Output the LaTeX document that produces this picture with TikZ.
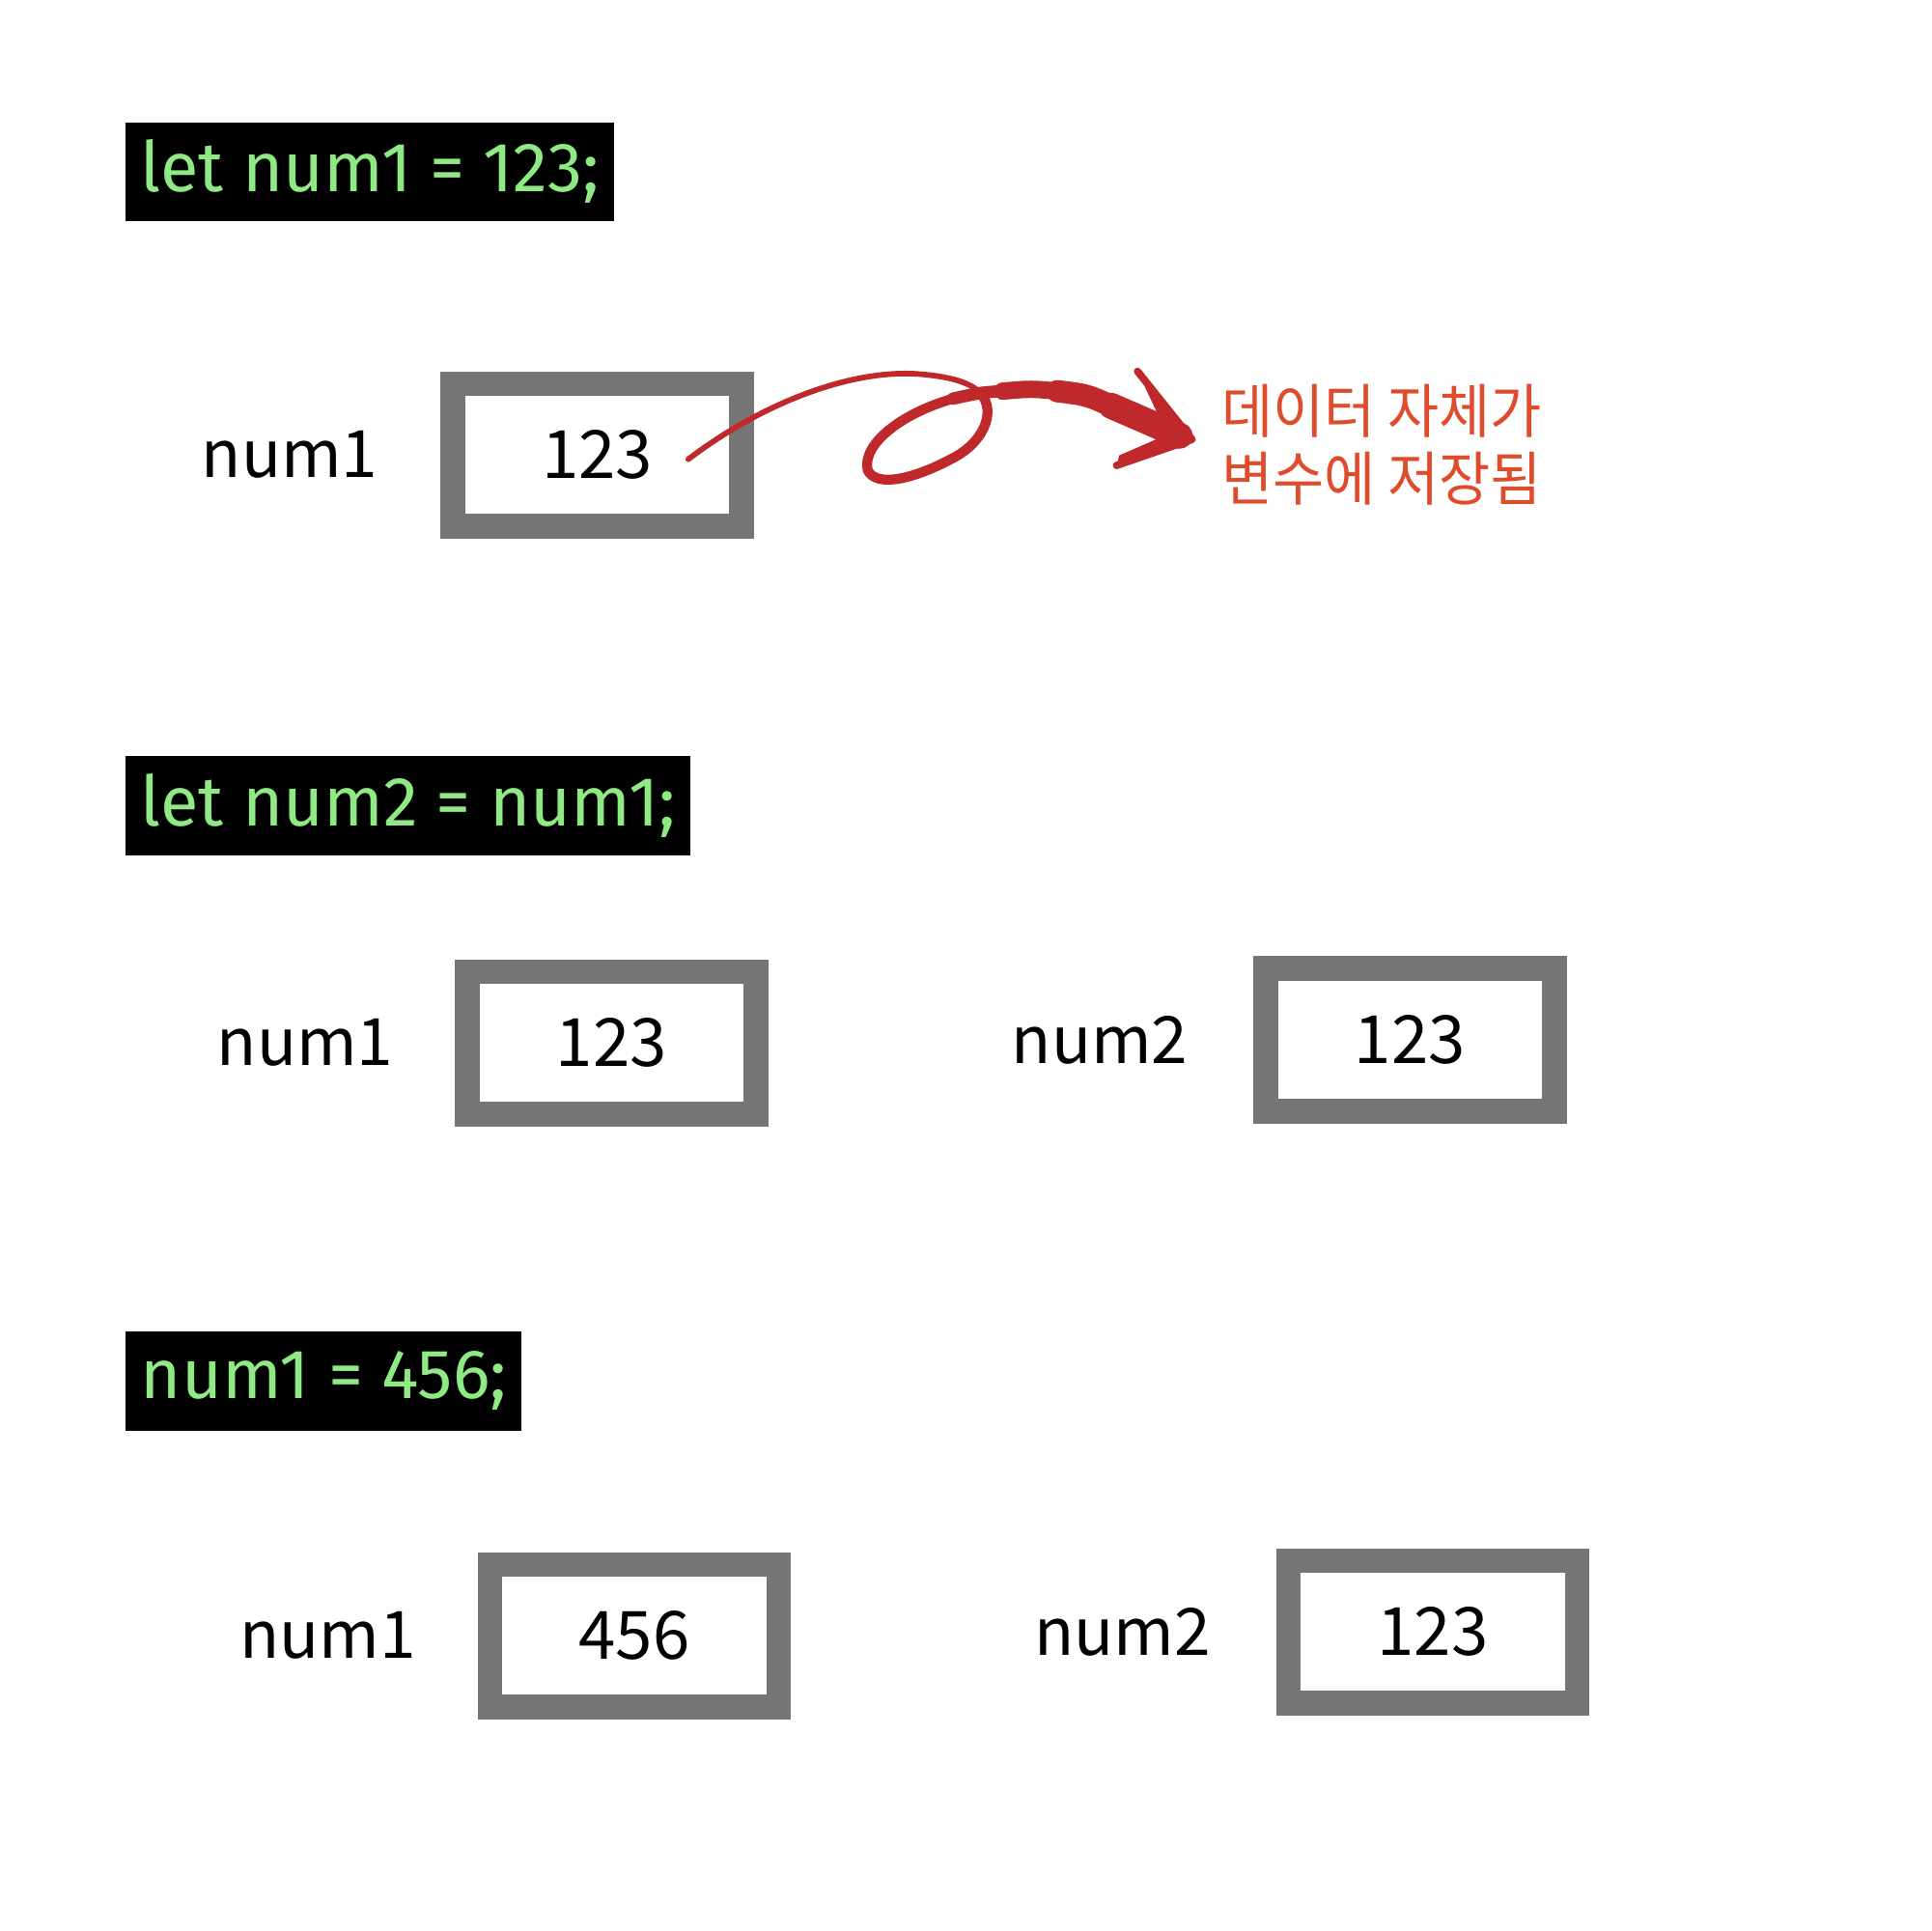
\documentclass[tikz,border=0pt]{standalone}
\usepackage{fontspec}
\setmainfont{Noto Sans CJK KR}
\newfontfamily\codefont{Fira Sans}
\usepackage{tikz}
\usetikzlibrary{positioning}
\definecolor{codegreen}{RGB}{144, 234, 132}
\definecolor{boxgray}{RGB}{117, 117, 117}
\definecolor{brush}{RGB}{192, 41, 43}
\definecolor{note}{RGB}{222, 76, 44}

\begin{document}
\begin{tikzpicture}[x=0.01cm, y=-0.01cm,
    code/.style={fill=black, text=codegreen, anchor=north west, font=\codefont\fontsize{16}{19}\selectfont,
      minimum height=0.8cm, inner xsep=0.12cm, inner ysep=0pt},
    cell/.style={draw=boxgray, line width=0.2cm, minimum width=2.33cm, minimum height=1.15cm,
      inner sep=0pt, font=\fontsize{15.3}{18}\selectfont},
    var/.style={inner sep=0pt, font=\fontsize{15}{18}\selectfont}]
  \useasboundingbox (2, 1) rectangle (1562, 1561);

  % let num1 = 123;
  \node[code] (c1) at (103, 99) {let num1 = 123;};
  \node[cell] (a1) at (484.5, 368.5) {123};
  \node[var, left=0.5cm of a1] (n1) {num1};

  \begin{scope}[brush, line cap=round, line join=round]
    \draw[line width=0.045cm] (558, 372) .. controls (620, 325) and (690, 300) .. (742, 303)
      .. controls (770, 305) and (785, 310) .. (794, 318);
    \draw[line width=0.08cm] (794, 318) .. controls (808, 335) and (795, 360) .. (770, 372)
      .. controls (740, 388) and (710, 395) .. (703, 381)
      .. controls (698, 360) and (730, 335) .. (772, 323);
    \foreach \w/\a/\c/\b in {0.10/{772,323}/{795,318}/{812,317},
        0.14/{812,317}/{835,315}/{856,317}, 0.18/{856,317}/{880,320}/{900,329},
        0.21/{900,329}/{930,342}/{955,353}} {
      \draw[line width=\w cm] (\a) .. controls (\c) .. (\b);
    }
    \fill (921, 301) -- (936, 318) -- (968, 356) -- (904, 380) -- (906, 369) -- (945, 352) -- cycle;
    \draw[line width=0.06cm] (921, 301) -- (965, 356) -- (904, 377);
  \end{scope}

  \node[anchor=north west, align=left, inner sep=0pt, text=note,
    font=\fontsize{13.5}{15.4}\selectfont] (t1) at (988, 311)
    {\scalebox{0.95}[1]{데이터 자체가}\\\scalebox{0.95}[1]{변수에 저장됨}};

  % let num2 = num1;
  \node[code] (c2) at (103, 611) {let num2 = num1;};
  \node[cell] (a2) at (496, 843.5) {123};
  \node[var, left=0.49cm of a2] (n2) {num1};
  \node[cell] (b2) at (1141, 841) {123};
  \node[var, left=0.52cm of b2] (m2) {num2};

  % num1 = 456;
  \node[code] (c3) at (103, 1076) {num1 = 456;};
  \node[cell] (a3) at (514.5, 1322.5) {456};
  \node[var, left=0.49cm of a3] (n3) {num1};
  \node[cell] (b3) at (1159.5, 1319.5) {123};
  \node[var, left=0.52cm of b3] (m3) {num2};
\end{tikzpicture}
\end{document}
